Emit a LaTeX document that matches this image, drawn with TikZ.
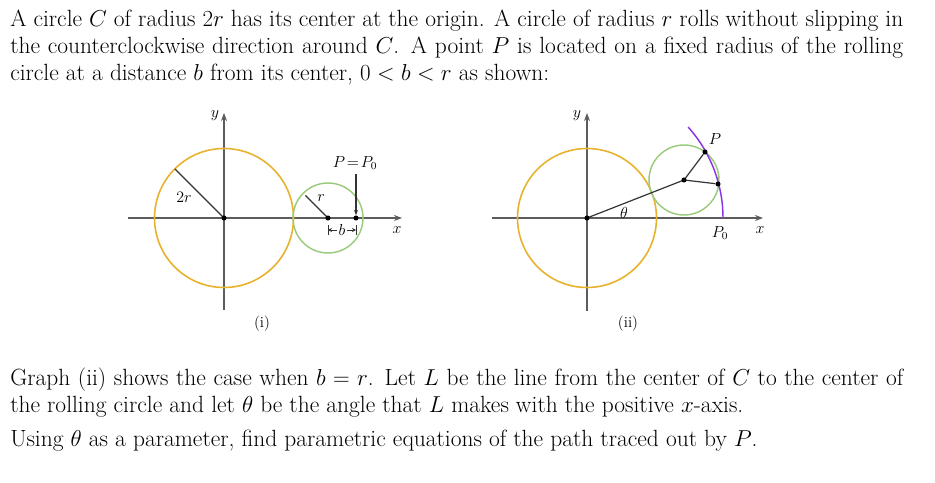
\documentclass[tikz,border=0pt]{standalone}
\usetikzlibrary{arrows.meta}

\definecolor{gold}{HTML}{E8B22C}
\definecolor{leaf}{HTML}{9ACB7C}
\definecolor{trace}{HTML}{8A36E8}
\definecolor{axisgray}{HTML}{5C5C5C}

\begin{document}
\begin{tikzpicture}[
    x=0.75pt, y=0.75pt,
    axis/.style={axisgray, line width=1.1pt, -{Stealth[length=6pt,width=4.5pt]}},
    bigcircle/.style={gold, line width=1.2pt},
    rollcircle/.style={leaf, line width=1.1pt},
    spoke/.style={black!80, line width=0.9pt},
    dot/.style={circle, fill=black, inner sep=0pt, minimum size=3.8pt},
    lbl/.style={font=\fontsize{11.5}{13}\selectfont, inner sep=1pt},
    para/.style={anchor=north west, inner sep=0pt, text width=669.75pt, align=justify,
                 font=\fontsize{17.6}{20.25}\selectfont}
]
\useasboundingbox (0,0) rectangle (935,482);

% Text
\node[para] (intro) at (10,475) {\strut A circle $C$ of radius $2r$ has its center at the origin. A circle of radius $r$ rolls without slipping in\linebreak
the counterclockwise direction around $C$. A point $P$ is located on a fixed radius of the rolling\linebreak
circle at a distance $b$ from its center, $0<b<r$ as shown:};

\node[para] (graph) at (10,116) {\strut Graph (ii) shows the case when $b=r$. Let $L$ be the line from the center of $C$ to the center of\linebreak
the rolling circle and let $\theta$ be the angle that $L$ makes with the positive $x$-axis.};

\node[para] (task) at (10,55) {\strut Using $\theta$ as a parameter, find parametric equations of the path traced out by $P$.};

% (i): start position
\coordinate (O1) at (224,264);
\draw[axis] (128,264) -- (402,264);
\draw[axis] (224,172) -- (224,369);
\node[lbl] (xi) at (397,252) {$x$};
\node[lbl] (yi) at (215,366) {$y$};

\draw[bigcircle] (O1) circle[radius=69.5];
\coordinate (R1) at (174.9,313.1);
\draw[spoke] (O1) -- (R1);
\node[lbl] (twor) at (184,285) {$2r$};

\node[dot] (c1) at (O1) {};
\coordinate (C1) at (328,264);
\draw[rollcircle] (C1) circle[radius=35];
\coordinate (R2) at (305.4,286.6);
\draw[spoke] (C1) -- (R2);
\node[lbl] (rr) at (321,284) {$r$};
\node[dot] (cc1) at (C1) {};

\node[dot] (P1) at (356,264) {};
\node[lbl] (PP) at (355,319) {$P\!=\!P_0$};
\draw[spoke, -{Stealth[length=4pt,width=3pt]}] (356,308) -- (P1.north);

% b
\node[lbl] (bb) at (342,252) {$b$};
\coordinate (b1) at (328,252);
\coordinate (b2) at (356,252);
\draw[spoke, line width=0.6pt, -{Stealth[length=3pt,width=3pt]}] (bb.west) -- (b1);
\draw[spoke, line width=0.6pt, -{Stealth[length=3pt,width=3pt]}] (bb.east) -- (b2);
\draw[spoke, line width=0.6pt] (328,247) -- (328,257);
\draw[spoke, line width=0.6pt] (356,247) -- (356,257);

\node[lbl] (capi) at (262,158) {(i)};

% (ii): rolled position
\coordinate (O2) at (587,264);
\draw[axis] (492,264) -- (763,264);
\draw[axis] (587,171) -- (587,369);
\node[lbl] (xii) at (760,252) {$x$};
\node[lbl] (yii) at (577,366) {$y$};

\draw[bigcircle] (O2) circle[radius=69.5];
\coordinate (C2) at (684,302);
\draw[rollcircle] (C2) circle[radius=35];
\draw[trace, line width=1.1pt] (723,264) arc[start angle=0, end angle=42, radius=136];

\node[dot] (P2) at (705,330) {};
\node[dot] (Q2) at (718,298) {};
\draw[spoke] (O2) -- (C2) -- (P2);
\draw[spoke] (C2) -- (Q2);
\node[dot] (c2) at (O2) {};
\node[dot] (cc2) at (C2) {};

\node[lbl] (th) at (624,269) {$\theta$};
\node[lbl] (Pl) at (715,343) {$P$};
\node[lbl] (P0l) at (720,249) {$P_0$};
\node[lbl] (capii) at (628,158) {(ii)};

\end{tikzpicture}
\end{document}
